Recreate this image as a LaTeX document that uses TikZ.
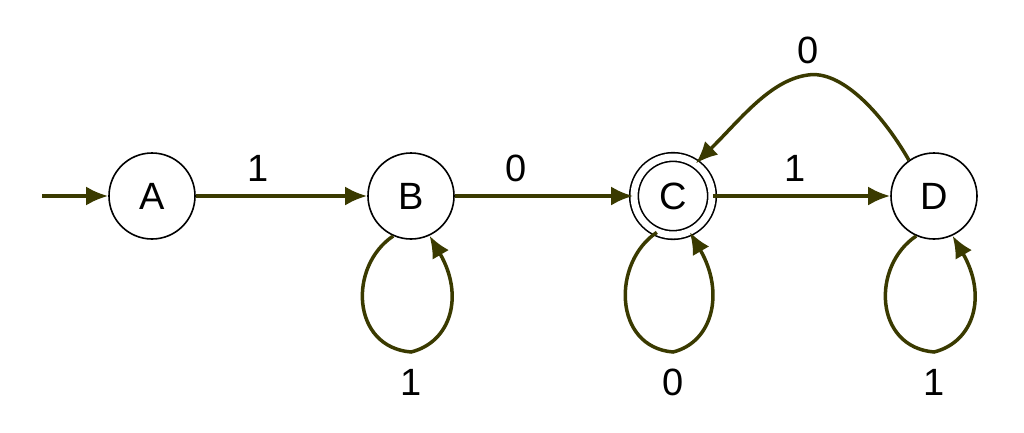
\documentclass[tikz,border=0pt]{standalone}
\usepackage{fontspec}
\setmainfont{Liberation Sans}
\usetikzlibrary{arrows.meta}
\definecolor{ol}{RGB}{58,58,0}
\begin{document}
\begin{tikzpicture}[x=1pt,y=-1pt,
  st/.style={circle,draw=black,line width=1.6pt,minimum size=86pt,inner sep=0pt,font=\fontsize{38}{40}\selectfont},
  acc/.style={st,double=white,double distance=6pt,line width=1.6pt},
  ed/.style={draw=ol,line width=3.5pt,-{Latex[length=22pt,width=19pt]}},
  lb/.style={font=\fontsize{38}{40}\selectfont}]
\useasboundingbox (0,0) rectangle (1024,432);
\node[st] (A) at (152,196) {A};
\node[st] (B) at (411,196) {B};
\node[st,minimum size=78pt,double=white,double distance=7pt] (C) at (673,196) {C};
\node[st] (D) at (934,196) {D};
\coordinate (s) at (42,196);
\draw[ed] (s) -- (A);
\draw[ed] (A) -- (B);
\draw[ed] (B) -- (C);
\draw[ed] (C) -- (D);
\draw[ed] (D.125) .. controls (880,110) and (840,70) .. (808,75) .. controls (770,80) and (740,120) .. (C.55);
\foreach \n in {B,C,D}{
  \draw[ed] (\n.-114) .. controls +(-45,30) and +(-60,-5) .. ([shift={(0,156)}]\n.center) .. controls +(40,-10) and +(35,60) .. (\n.-65);
}
\node[lb] (l1) at (258,168) {1};
\node[lb] (l2) at (516,168) {0};
\node[lb] (l3) at (795,168) {1};
\node[lb] (l4) at (808,50) {0};
\node[lb] (l5) at (411,382) {1};
\node[lb] (l6) at (673,382) {0};
\node[lb] (l7) at (934,382) {1};
\end{tikzpicture}
\end{document}
